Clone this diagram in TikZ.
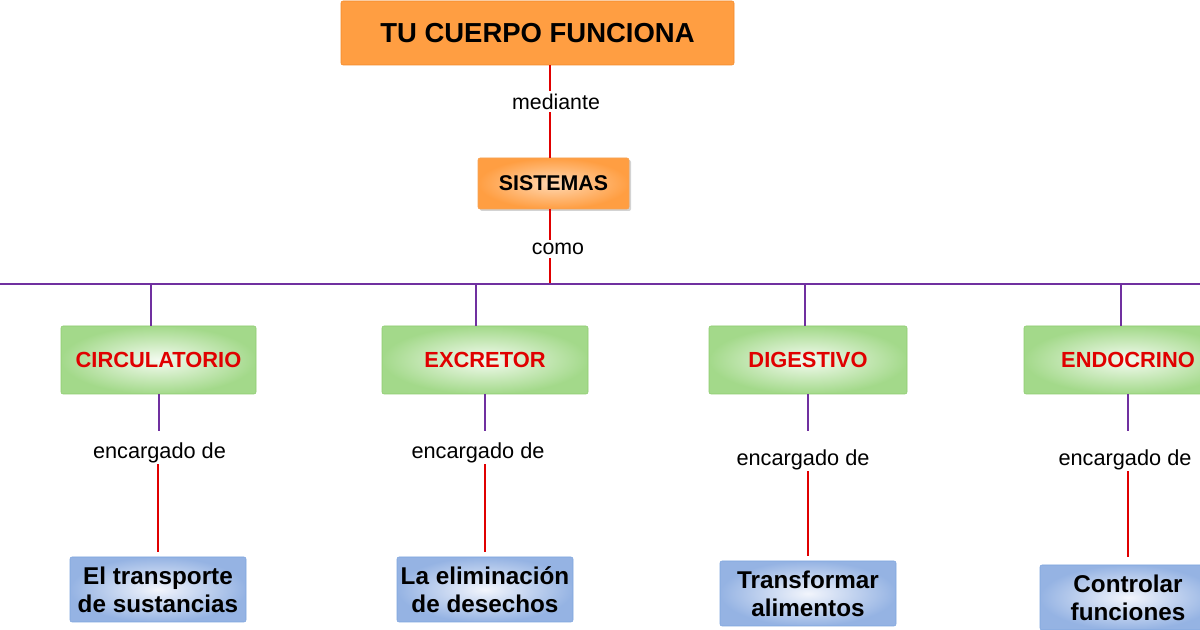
\documentclass[tikz,border=0pt]{standalone}
\usepackage{fontspec}
\setmainfont{Liberation Sans}
\usetikzlibrary{shadows}
\definecolor{linkred}{HTML}{E00000}
\definecolor{barpurple}{HTML}{7030A0}
\definecolor{topfill}{HTML}{FF9E42}
\definecolor{topdraw}{HTML}{F28A2A}
\definecolor{greenout}{HTML}{A3D98A}
\definecolor{greenin}{HTML}{F4FBF1}
\definecolor{greendraw}{HTML}{8DCB6F}
\definecolor{blueout}{HTML}{95B3E3}
\definecolor{bluein}{HTML}{F2F5FC}
\definecolor{bluedraw}{HTML}{7EA5DE}
\begin{document}
\begin{tikzpicture}[x=0.75pt, y=-0.75pt,
  sysbox/.style={draw=greendraw, rounded corners=1.5pt, inner color=greenin, outer color=greenout,
    minimum height=51pt, text=linkred, font=\fontsize{16.4}{19}\selectfont\bfseries},
  taskbox/.style={draw=bluedraw, rounded corners=1.5pt, inner color=bluein, outer color=blueout,
    minimum width=132pt, minimum height=48.75pt, align=center, inner sep=1pt,
    font=\fontsize{18.2}{21}\selectfont\bfseries},
  linklabel/.style={fill=white, inner sep=2pt, font=\fontsize{16}{19}\selectfont},
  tasklabel/.style={anchor=base, inner sep=0pt, text depth=3.75pt, font=\fontsize{16.3}{19}\selectfont},
  redlink/.style={draw=linkred, line width=1.5pt},
  purplelink/.style={draw=barpurple, line width=1.5pt}]
\useasboundingbox (0,0) rectangle (1200,630);
\clip (0,0) rectangle (1200,630);
% top of the map
\node[draw=topdraw, fill=topfill, rounded corners=1.5pt, minimum width=294.75pt, minimum height=48pt,
  font=\fontsize{20.6}{25}\selectfont\bfseries] (tid0) at (537.5,33){TU CUERPO FUNCIONA};
\node[draw=topdraw!80, rounded corners=1.5pt, inner color=topfill!40, outer color=topfill,
  minimum width=113.25pt, minimum height=38.25pt, font=\fontsize{16}{19}\selectfont\bfseries,
  drop shadow={opacity=0.35, shadow xshift=1.5pt, shadow yshift=-1.5pt}] (tid1) at (553.5,183.5){SISTEMAS};
\coordinate (bar) at (550,284);
\draw[redlink](tid0.south -| bar) -- (tid1.north -| bar);
\draw[redlink](tid1.south -| bar) -- (bar);
\node[linklabel] (mediante) at (556,102){mediante};
\node[linklabel] (como) at (558,249){como};
\draw[purplelink](0,284) -- (1200,284);
% systems
\node[sysbox, minimum width=146.25pt] (tid2) at (158.5,360){CIRCULATORIO};
\node[sysbox, minimum width=154.5pt] (tid3) at (485,360){EXCRETOR};
\node[sysbox, minimum width=148.5pt] (tid4) at (808,360){DIGESTIVO};
\node[sysbox, minimum width=156pt] (tid5) at (1128,360){ENDOCRINO};
\coordinate (b2) at (151,284);
\coordinate (b3) at (476,284);
\coordinate (b4) at (805,284);
\coordinate (b5) at (1121,284);
\draw[purplelink](b2) -- (b2 |- tid2.north);
\draw[purplelink](b3) -- (b3 |- tid3.north);
\draw[purplelink](b4) -- (b4 |- tid4.north);
\draw[purplelink](b5) -- (b5 |- tid5.north);
% tasks
\node[tasklabel, text height=21pt] (lab2) at (159.5,459){encargado de};
\node[tasklabel, text height=21pt] (lab3) at (478,459){encargado de};
\node[tasklabel, text height=26.25pt] (lab4) at (803,466){encargado de};
\node[tasklabel, text height=26.25pt] (lab5) at (1125,466){encargado de};
\node[taskbox] (tid6) at (158,589.5){El transporte\\de sustancias};
\node[taskbox] (tid7) at (485,589.5){La eliminación\\de desechos};
\node[taskbox] (tid8) at (808,593.5){Transformar\\alimentos};
\node[taskbox] (tid9) at (1128,597.5){Controlar\\funciones};
\draw[purplelink](tid2.south) -- (tid2.south |- lab2.north);
\draw[purplelink](tid3.south) -- (tid3.south |- lab3.north);
\draw[purplelink](tid4.south) -- (tid4.south |- lab4.north);
\draw[purplelink](tid5.south) -- (tid5.south |- lab5.north);
\draw[redlink, shorten >=3.5pt](tid6.north |- lab2.south) -- (tid6.north);
\draw[redlink, shorten >=3.5pt](tid7.north |- lab3.south) -- (tid7.north);
\draw[redlink, shorten >=3.5pt](tid8.north |- lab4.south) -- (tid8.north);
\draw[redlink, shorten >=6pt](tid9.north |- lab5.south) -- (tid9.north);
\end{tikzpicture}
\end{document}
